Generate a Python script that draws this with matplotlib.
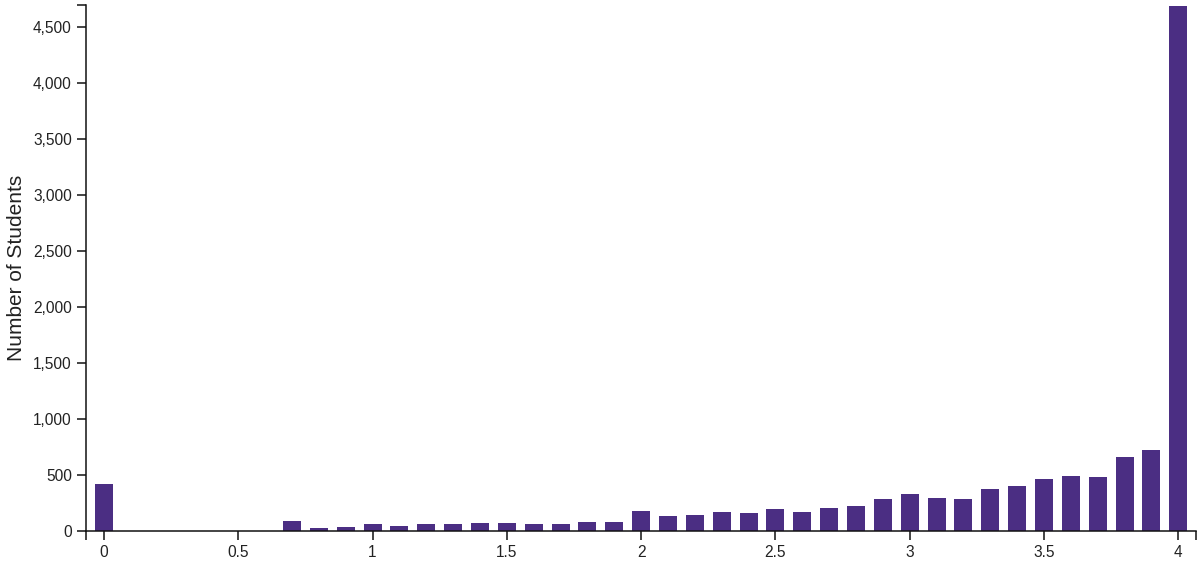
import matplotlib.pyplot as plt
from matplotlib.ticker import FuncFormatter

plt.rcParams['font.family'] = ['Liberation Sans', 'DejaVu Sans']

# GPA bins (0.1 wide) and number of students in each
gpa = [round(i * 0.1, 1) for i in range(41)]
counts = [415, 0, 0, 0, 0, 0, 0, 84, 24, 33,
          57, 45, 57, 57, 66, 69, 60, 60, 75, 78,
          176, 128, 137, 170, 161, 194, 164, 203, 224, 280,
          331, 295, 283, 373, 402, 459, 486, 480, 661, 724,
          4690]

x_ticks = [0, 0.5, 1, 1.5, 2, 2.5, 3, 3.5, 4]
x_tick_labels = ['0', '0.5', '1', '1.5', '2', '2.5', '3', '3.5', '4']
y_ticks = [0, 500, 1000, 1500, 2000, 2500, 3000, 3500, 4000, 4500]

bar_color = '#4b2e83'
x_lo, x_hi = -0.067, 4.066
y_hi = 4695

fig = plt.figure(figsize=(12, 5.64), dpi=100)
ax = fig.add_axes([0.0717, 0.059, 0.925, 0.9316])

ax.bar(gpa, counts, width=0.067, color=bar_color, zorder=2)

ax.set_xlim(x_lo, x_hi)
ax.set_ylim(0, y_hi)

ax.set_xticks(x_ticks)
ax.set_xticklabels(x_tick_labels)
ax.set_xticks([x_lo, x_hi], minor=True)
ax.set_yticks(y_ticks)
ax.set_yticks([y_hi], minor=True)
ax.yaxis.set_major_formatter(FuncFormatter(lambda v, p: f'{int(v):,}'))

for s in ['top', 'right']:
    ax.spines[s].set_visible(False)
for s in ['left', 'bottom']:
    ax.spines[s].set_linewidth(1.1)
    ax.spines[s].set_color('#111111')

ax.tick_params(which='both', direction='out', length=6.3, width=1.1,
               color='#111111', labelsize=11.2, labelcolor='#222222', pad=4)

ax.set_ylabel('Number of Students', fontsize=15, color='#222222')
ax.yaxis.set_label_coords(-0.054, 0.5)

fig.savefig('out.png', dpi=100)
